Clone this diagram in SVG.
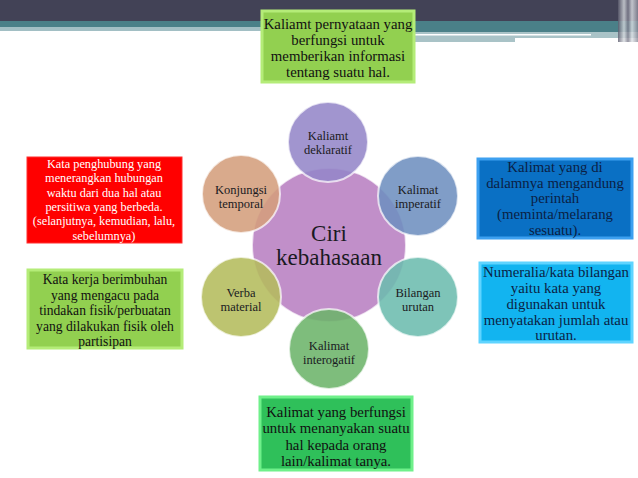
<svg xmlns="http://www.w3.org/2000/svg" width="638" height="478" viewBox="0 0 638 478">
<defs>
<style>
.t{font-family:"Liberation Serif","DejaVu Serif",serif;text-anchor:middle}
.bx{font-size:14.8px;fill:#111}
.bg{font-size:13.6px;fill:#111}
.bw{font-size:12.3px;fill:#fff}
.bn{font-size:14.8px;fill:#0b1f45}
.cl{font-size:12.5px;fill:#1a1a22}
.ring{stroke:#fff;stroke-opacity:0.7;stroke-width:2}
</style>
<linearGradient id="vs" x1="0" y1="0" x2="1" y2="0">
<stop offset="0" stop-color="#5a5a6c"/><stop offset="0.3" stop-color="#d8dce0"/><stop offset="0.5" stop-color="#7a7a8a"/><stop offset="0.7" stop-color="#e0e4e8"/><stop offset="1" stop-color="#8a8a98"/>
</linearGradient>
</defs>
<rect width="638" height="478" fill="#fff"/>
<g id="header">
<rect x="0" y="0" width="638" height="21" fill="#424256"/>
<rect x="0" y="21" width="638" height="6" fill="#4a8088"/>
<rect x="0" y="27" width="400" height="4" fill="#a2bfc4"/>
<rect x="400" y="27" width="238" height="5" fill="#4a8088"/>
<rect x="400" y="32" width="238" height="6" fill="#a9c3c7"/>
<rect x="415" y="34" width="176" height="1.5" fill="#ffffff"/>
<rect x="400" y="38" width="115" height="4" fill="#a9c3c7"/>
<rect x="618" y="0" width="20" height="42" fill="url(#vs)" opacity="0.8"/>
</g>
<g id="circles">
<g id="center">
<circle cx="329" cy="245" r="77" fill="#b87fc2" fill-opacity="0.88" class="ring"/>
<text class="t" font-size="23" fill="#1a1a22" x="329" y="241">Ciri</text>
<text class="t" font-size="23" fill="#1a1a22" x="329" y="265">kebahasaan</text>
</g>
<g id="n-deklaratif">
<circle cx="328" cy="142" r="40" fill="#9486c8" fill-opacity="0.88" class="ring"/>
<text class="t cl" x="328" y="140">Kaliamt</text>
<text class="t cl" x="328" y="154">deklaratif</text>
</g>
<g id="n-imperatif">
<circle cx="418" cy="196" r="40" fill="#6e8fbf" fill-opacity="0.88" class="ring"/>
<text class="t cl" x="418" y="194">Kalimat</text>
<text class="t cl" x="418" y="208">imperatif</text>
</g>
<g id="n-bilangan">
<circle cx="418" cy="297" r="40" fill="#6cbcae" fill-opacity="0.88" class="ring"/>
<text class="t cl" x="418" y="297">Bilangan</text>
<text class="t cl" x="418" y="311">urutan</text>
</g>
<g id="n-interogatif">
<circle cx="329" cy="349" r="40" fill="#6cb46a" fill-opacity="0.88" class="ring"/>
<text class="t cl" x="329" y="350">Kalimat</text>
<text class="t cl" x="329" y="364">interogatif</text>
</g>
<g id="n-verba">
<circle cx="241" cy="297" r="40" fill="#b4bc5c" fill-opacity="0.88" class="ring"/>
<text class="t cl" x="241" y="297">Verba</text>
<text class="t cl" x="241" y="311">material</text>
</g>
<g id="n-konjungsi">
<circle cx="241" cy="194" r="39" fill="#d49e7c" fill-opacity="0.88" class="ring"/>
<text class="t cl" x="241" y="194">Konjungsi</text>
<text class="t cl" x="241" y="208">temporal</text>
</g>
</g>
<g id="connectors"/>
<g id="box-top">
<rect x="262" y="11" width="152" height="71" fill="#92d050" stroke="#b4ec78" stroke-width="3"/>
<text class="t bx" x="338" y="29">Kaliamt pernyataan yang</text>
<text class="t bx" x="338" y="45">berfungsi untuk</text>
<text class="t bx" x="338" y="61">memberikan informasi</text>
<text class="t bx" x="338" y="77">tentang suatu hal.</text>
</g>
<g id="box-red">
<rect x="27" y="157" width="155" height="86" fill="#ff0000" stroke="#ff3030" stroke-width="1"/>
<text class="t bw" x="104" y="168">Kata penghubung yang</text>
<text class="t bw" x="104" y="182.3">menerangkan hubungan</text>
<text class="t bw" x="104" y="196.6">waktu dari dua hal atau</text>
<text class="t bw" x="104" y="210.9">persitiwa yang berbeda.</text>
<text class="t bw" x="104" y="225.2">(selanjutnya, kemudian, lalu,</text>
<text class="t bw" x="104" y="239.5">sebelumnya)</text>
</g>
<g id="box-green-left">
<rect x="28" y="270" width="154" height="78" fill="#92d050" stroke="#b4ec78" stroke-width="3"/>
<text class="t bg" x="105" y="284">Kata kerja berimbuhan</text>
<text class="t bg" x="105" y="299.5">yang mengacu pada</text>
<text class="t bg" x="105" y="315">tindakan fisik/perbuatan</text>
<text class="t bg" x="105" y="330.5">yang dilakukan fisik oleh</text>
<text class="t bg" x="105" y="346">partisipan</text>
</g>
<g id="box-blue">
<rect x="478" y="159" width="154" height="79" fill="#0a70c4" stroke="#3da0f0" stroke-width="3"/>
<text class="t bn" x="555" y="172">Kalimat yang di</text>
<text class="t bn" x="555" y="187.7">dalamnya mengandung</text>
<text class="t bn" x="555" y="203.4">perintah</text>
<text class="t bn" x="555" y="219.1">(meminta/melarang</text>
<text class="t bn" x="555" y="234.8">sesuatu).</text>
</g>
<g id="box-cyan">
<rect x="480" y="263" width="152" height="79" fill="#12b4f0" stroke="#5fd4ff" stroke-width="3"/>
<text class="t bn" x="556" y="277">Numeralia/kata bilangan</text>
<text class="t bn" x="556" y="293">yaitu kata yang</text>
<text class="t bn" x="556" y="309">digunakan untuk</text>
<text class="t bn" x="556" y="324.5">menyatakan jumlah atau</text>
<text class="t bn" x="556" y="340">urutan.</text>
</g>
<g id="box-bottom">
<rect x="260" y="397" width="152" height="73" fill="#2fc05a" stroke="#6ff08a" stroke-width="3"/>
<text class="t bx" x="336" y="417">Kalimat yang berfungsi</text>
<text class="t bx" x="336" y="433">untuk menanyakan suatu</text>
<text class="t bx" x="336" y="450">hal kepada orang</text>
<text class="t bx" x="336" y="466">lain/kalimat tanya.</text>
</g>
</svg>
